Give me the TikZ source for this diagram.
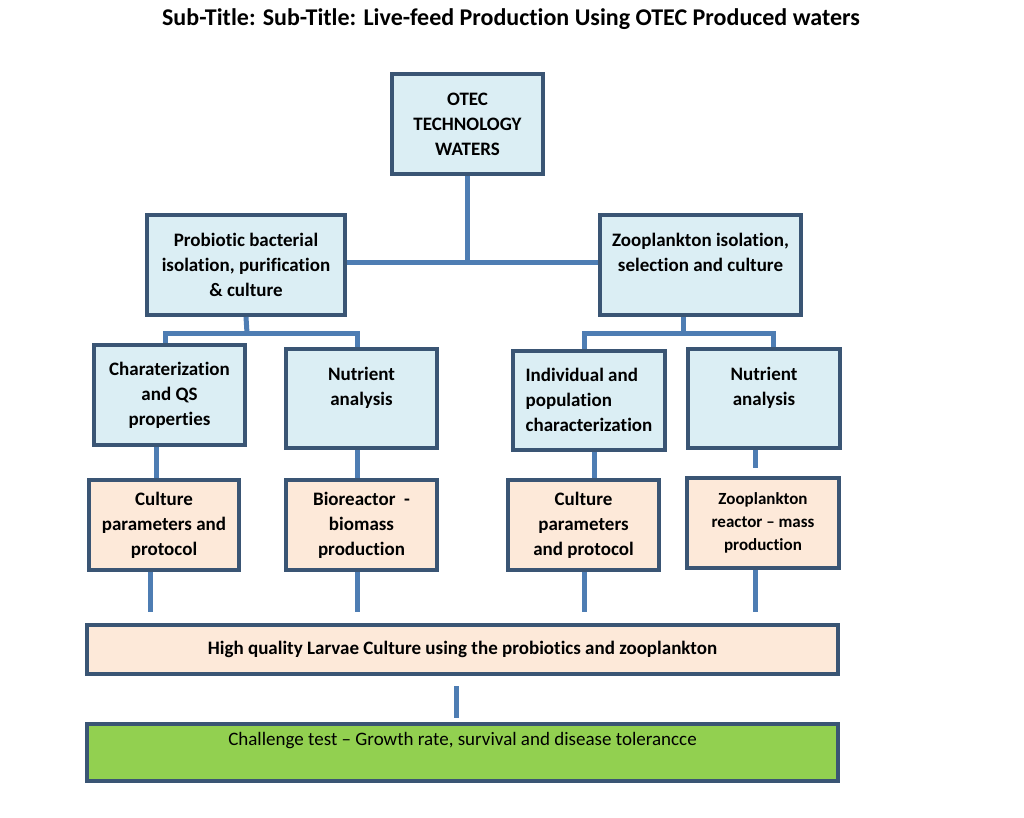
\documentclass[tikz,border=0pt]{standalone}
\usepackage{fontspec}
\setmainfont{Carlito}[Ligatures={NoCommon}]
\definecolor{bluefill}{HTML}{DBEEF4}
\definecolor{orangefill}{HTML}{FDE9D9}
\definecolor{greenfill}{HTML}{92D050}
\definecolor{borderc}{HTML}{3A5574}
\definecolor{connc}{HTML}{4E7DB3}
\tikzset{
  box/.style={draw=borderc, line width=4pt, align=center, inner sep=1pt,
    font=\fontsize{19}{25}\selectfont\bfseries, text=black},
  bluebox/.style={box, fill=bluefill},
  orangebox/.style={box, fill=orangefill},
  conn/.style={draw=connc, line width=5pt}
}
\begin{document}
\begin{tikzpicture}[x=1pt,y=-1pt]
\useasboundingbox (0,0) rectangle (1024,817);
\node (title) at (511,19) {\fontsize{24}{28}\selectfont\bfseries Sub-Title: Sub-Title: Live-feed Production Using OTEC Produced waters};

\node[bluebox, minimum width=151, minimum height=100] (otec) at (467.5,124) {OTEC\\TECHNOLOGY\\WATERS};
\node[bluebox, minimum width=198, minimum height=100] (prob) at (246,265) {Probiotic bacterial\\isolation, purification\\\& culture};
\node[bluebox, minimum width=201, minimum height=100] (zoo) at (700.5,265) {Zooplankton isolation,\\selection and culture\\\mbox{}};

\node[bluebox, minimum width=151, minimum height=100] (char) at (169.5,395) {Charaterization\\and QS\\properties};
\node[bluebox, minimum width=151, minimum height=99] (nutL) at (361.5,398.5) {Nutrient\\analysis\\\mbox{}};
\node[bluebox, minimum width=152, minimum height=99, align=left] (indiv) at (589,400.5) {\mbox{}\\[-12pt]Individual and\\population\\characterization};
\node[bluebox, minimum width=152, minimum height=99] (nutR) at (764,398.5) {Nutrient\\analysis\\\mbox{}};

\node[orangebox, minimum width=150, minimum height=90] (culL) at (164,525) {Culture\\parameters and\\protocol};
\node[orangebox, minimum width=151, minimum height=90] (bio) at (361.5,525) {Bioreactor ~-\\biomass\\production};
\node[orangebox, minimum width=151, minimum height=90] (culR) at (583.5,525) {Culture\\parameters\\and protocol};
\node[orangebox, minimum width=152, minimum height=90, font=\fontsize{17}{23}\selectfont\bfseries] (zreact) at (763,523) {Zooplankton\\reactor -- mass\\production};

\node[orangebox, minimum width=751, minimum height=49] (larvae) at (462.5,649.5) {High quality Larvae Culture using the probiotics and zooplankton};
\node[box, fill=greenfill, minimum width=751, minimum height=57, font=\fontsize{19}{28}\selectfont] (chal) at (462.5,752.5) {Challenge test -- Growth rate, survival and disease tolerancce\\\mbox{}};

\coordinate (pbar) at (247,333);
\coordinate (zbar) at (683,333);

\draw[conn] (otec.south) -- (otec.south |- 0,262);
\draw[conn] (prob.east |- 0,262) -- (zoo.west |- 0,262);

\draw[conn] (prob.south) -- (pbar);
\draw[conn] ([xshift=-4.5pt]char.north) |- (pbar) -| ([xshift=-4.5pt]nutL.north);
\draw[conn] (zoo.south -| zbar) -- (zbar);
\draw[conn] ([xshift=-5pt]indiv.north) |- (zbar) -| ([xshift=9pt]nutR.north);

\draw[conn] ([xshift=-13.5pt]char.south) -- ([xshift=-13.5pt]char.south |- culL.north);
\draw[conn] ([xshift=-4.5pt]nutL.south) -- ([xshift=-4.5pt]nutL.south |- bio.north);
\draw[conn] ([xshift=5pt]indiv.south) -- ([xshift=5pt]indiv.south |- culR.north);
\draw[conn, shorten >=8pt] ([xshift=-9pt]nutR.south) -- ([xshift=-9pt]nutR.south |- zreact.north);

\draw[conn, shorten >=11pt] ([xshift=-14pt]culL.south) -- ([xshift=-14pt]culL.south |- larvae.north);
\draw[conn, shorten >=11pt] ([xshift=-4.5pt]bio.south) -- ([xshift=-4.5pt]bio.south |- larvae.north);
\draw[conn, shorten >=11pt] ([xshift=0.5pt]culR.south) -- ([xshift=0.5pt]culR.south |- larvae.north);
\draw[conn, shorten >=11pt] ([xshift=-8pt]zreact.south) -- ([xshift=-8pt]zreact.south |- larvae.north);

\draw[conn, shorten <=10pt, shorten >=4pt] (larvae.south -| 456,0) -- (chal.north -| 456,0);
\end{tikzpicture}
\end{document}
